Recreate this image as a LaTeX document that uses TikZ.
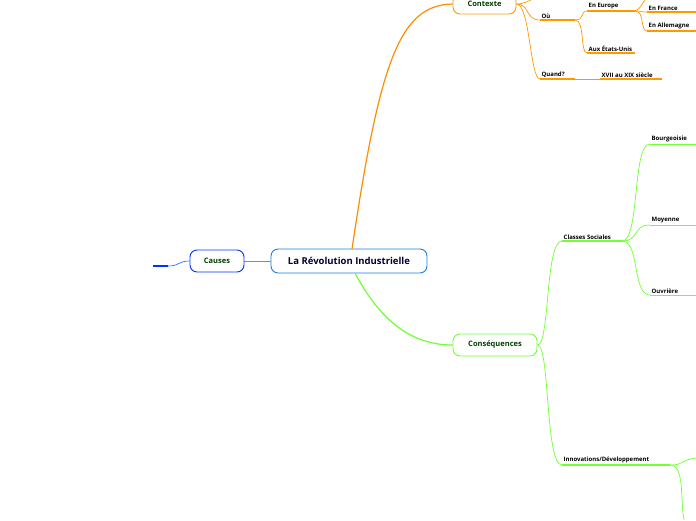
\documentclass[tikz,border=0pt]{standalone}
\usepackage{fontspec}
\setmainfont{Open Sans}
\begin{document}
\begin{tikzpicture}[x=1pt,y=-1pt,
  ora/.style={draw=orange!80!yellow,line width=0.7pt},
  grn/.style={draw=green!70!yellow!80!white,line width=0.7pt},
  ul/.style={anchor=south west,inner sep=1.5pt,font=\fontsize{6}{7}\selectfont\bfseries},
  box/.style={rounded corners=7pt,line width=0.9pt,fill=white,font=\fontsize{7.5}{8}\selectfont\bfseries,text=green!25!black}]
\useasboundingbox (0,0) rectangle (696,520);
% central & causes
\node[box,draw=blue!50!cyan!80!gray,minimum width=156pt,minimum height=24pt,text=blue!20!black,font=\fontsize{9.5}{10}\selectfont\bfseries] (c) at (349,261) {La Révolution Industrielle};
\node[box,draw=blue!80!cyan,minimum width=54pt,minimum height=22pt] (ca) at (217,261) {Causes};
\coordinate (cau1) at (168,266); \coordinate (cau2) at (153,266);
\draw[blue!60!cyan,line width=0.6pt] (ca.west) .. controls (178,261) and (180,266) .. (cau1);
\draw[blue!80!cyan,line width=1.2pt] (cau1)--(cau2);
\draw[blue!60!cyan!70!white,line width=0.8pt] (c.west)--(ca.east);
% contexte
\node[box,draw=orange!80!yellow,minimum width=63pt,minimum height=20pt] (ct) at (484.5,4) {Contexte};
\draw[orange!90!yellow,line width=1.2pt] (352,249) .. controls (380,60) and (400,5) .. (ct.west);
\node[ul] (ou) at (540,20) {Où};
\node[ul] (eu) at (587,11) {En Europe};
\node[ul] (fr) at (647,12) {En France};
\node[ul] (al) at (647,31) {En Allemagne};
\node[ul] (us) at (587,53) {Aux États-Unis};
\node[ul] (qd) at (540,79) {Quand?};
\node[ul] (xv) at (600,79) {XVII au XIX siècle};
\begin{scope}[ora]
\draw[line width=1.2pt] (540,20)--(575,20) (587,11)--(635,11) (647,12)--(696,12)
 (647,31)--(696,31) (587,53)--(635,53) (540,79)--(575,79) (600,79)--(662,79);
\draw (575,79)--(600,79);
\draw (ct.east) .. controls (530,4) and (525,20) .. (540,20);
\draw (ct.east) .. controls (530,4) and (530,79) .. (540,79);
\draw (ct.east) .. controls (525,4) and (530,0) .. (535,-2);
\draw (575,20) .. controls (585,20) and (580,11) .. (587,11);
\draw (575,20) .. controls (585,20) and (580,53) .. (587,53);
\draw (635,11) .. controls (642,11) and (640,12) .. (647,12);
\draw (635,11) .. controls (645,11) and (640,31) .. (647,31);
\draw (635,11) .. controls (642,8) and (642,2) .. (647,-2);
\end{scope}
% consequences
\node[box,draw=green!70!yellow!80!white,minimum width=84pt,minimum height=22pt] (cs) at (495,345) {Conséquences};
\draw[green!70!yellow!80!white,line width=1.2pt] (355,273) .. controls (385,330) and (420,345) .. (cs.west);
\node[ul] (cl) at (562,241) {Classes Sociales};
\node[ul] (bo) at (650,144) {Bourgeoisie};
\node[ul] (mo) at (650,225) {Moyenne};
\node[ul] (ov) at (650,295) {Ouvrière};
\node[ul] (in) at (562,465) {Innovations/Développement};
\begin{scope}[grn]
\draw[line width=1.2pt] (562,241)--(622,241); \draw[line width=1.2pt] (562,465)--(670,465);
\draw (650,144)--(696,144); \draw (650,225)--(696,225); \draw (650,295)--(696,295);
\draw (cs.east) .. controls (550,345) and (545,241) .. (562,241);
\draw (cs.east) .. controls (550,345) and (545,465) .. (562,465);
\draw (622,241) .. controls (640,241) and (632,144) .. (650,144);
\draw (622,241) .. controls (640,241) and (632,225) .. (650,225);
\draw (622,241) .. controls (640,241) and (632,295) .. (650,295);
\draw (670,465) .. controls (685,465) and (680,460) .. (696,458);
\draw (670,465) .. controls (685,465) and (680,500) .. (684,520);
\end{scope}
\end{tikzpicture}
\end{document}
